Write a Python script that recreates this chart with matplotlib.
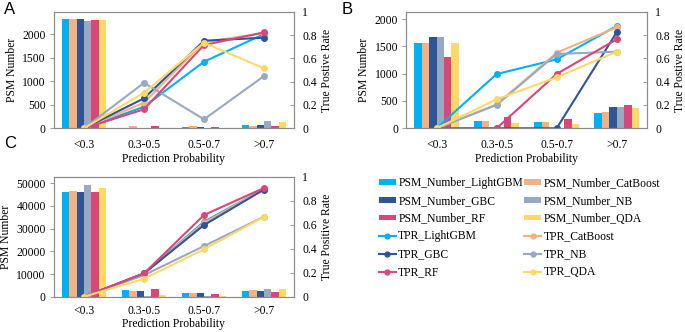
import numpy as np
import matplotlib.pyplot as plt
from matplotlib.patches import Patch
from matplotlib.lines import Line2D

plt.rcParams['font.family'] = ['Liberation Serif', 'DejaVu Serif']

categories = ['<0.3', '0.3-0.5', '0.5-0.7', '>0.7']
models = ['LightGBM', 'CatBoost', 'GBC', 'NB', 'RF', 'QDA']
colors = ['#00B0F0', '#F4B183', '#2F5597', '#98A9C2', '#D9467A', '#FFD966']

# panel A
psm_a = {
    'LightGBM': [2318, 15, 20, 75],
    'CatBoost': [2318, 40, 40, 45],
    'GBC': [2318, 15, 20, 80],
    'NB': [2275, 10, 8, 163],
    'RF': [2304, 40, 30, 55],
    'QDA': [2297, 10, 5, 130],
}
tpr_a = {
    'LightGBM': [0, 0.185, 0.571, 0.808],
    'CatBoost': [0, 0.22, 0.74, 0.815],
    'GBC': [0, 0.257, 0.751, 0.777],
    'NB': [0, 0.39, 0.077, 0.448],
    'RF': [0, 0.163, 0.714, 0.823],
    'QDA': [0, 0.305, 0.734, 0.514],
}

# panel B
psm_b = {
    'LightGBM': [1567, 139, 110, 286],
    'CatBoost': [1567, 139, 110, 298],
    'GBC': [1677, 8, 8, 396],
    'NB': [1677, 8, 8, 385],
    'RF': [1311, 212, 165, 427],
    'QDA': [1556, 103, 85, 366],
}
tpr_b = {
    'LightGBM': [0, 0.465, 0.591, 0.877],
    'CatBoost': [0, 0.205, 0.648, 0.866],
    'GBC': [0, 0, 0, 0.823],
    'NB': [0, 0.2, 0.637, 0.657],
    'RF': [0, 0, 0.466, 0.763],
    'QDA': [0, 0.248, 0.437, 0.657],
}

# panel C
psm_c = {
    'LightGBM': [46070, 2950, 1470, 2500],
    'CatBoost': [46500, 2650, 1470, 2800],
    'GBC': [46300, 2350, 1470, 2500],
    'NB': [49290, 100, 100, 3400],
    'RF': [46300, 3250, 1180, 1940],
    'QDA': [48100, 600, 300, 3400],
}
tpr_c = {
    'LightGBM': [0, 0.194, 0.625, 0.897],
    'CatBoost': [0, 0.192, 0.615, 0.897],
    'GBC': [0, 0.194, 0.597, 0.893],
    'NB': [0, 0.18, 0.422, 0.667],
    'RF': [0, 0.194, 0.681, 0.906],
    'QDA': [0, 0.15, 0.395, 0.665],
}

fs = 8.4
spine_col = '#8C8C8C'


def draw_panel(rect, psm, tpr, ymax, yticks, rlabel, xpad):
    ax = fig.add_axes(rect)
    x = np.arange(len(categories))
    w = 0.124
    for i, m in enumerate(models):
        ax.bar(x + (i - 2.5) * w, psm[m], width=w, color=colors[i], linewidth=0)
    ax.set_xlim(-0.5, 3.5)
    ax.set_ylim(0, ymax)
    ax.set_yticks(yticks)
    ax.set_xticks(x)
    ax.set_xticklabels(categories, fontsize=fs)
    ax.tick_params(axis='x', length=0, pad=xpad)
    ax.tick_params(axis='y', direction='out', length=3, width=0.6, color=spine_col,
                   labelsize=fs, pad=3)
    ax.set_ylabel('PSM Number', fontsize=fs, labelpad=3)
    ax.set_xlabel('Prediction Probability', fontsize=fs, labelpad=1)
    for s in ax.spines.values():
        s.set_color(spine_col)
        s.set_linewidth(0.8)

    ax2 = ax.twinx()
    for i, m in enumerate(models):
        ax2.plot(x, tpr[m], color=colors[i], linewidth=1.5, marker='o', markersize=4)
    ax2.set_ylim(0, 1)
    ax2.set_yticks([0, 0.2, 0.4, 0.6, 0.8, 1])
    ax2.set_yticklabels(['0', '0.2', '0.4', '0.6', '0.8', '1'])
    ax2.tick_params(axis='y', direction='in', length=3, width=0.6, color=spine_col,
                    labelsize=fs, pad=6)
    ax2.set_ylabel(rlabel, fontsize=fs, labelpad=3)
    for s in ax2.spines.values():
        s.set_color(spine_col)
        s.set_linewidth(0.8)
    return ax


fig = plt.figure(figsize=(6.85, 3.32), dpi=100)

draw_panel([54 / 685, 1 - 128.3 / 332, 240 / 685, 116.6 / 332], psm_a, tpr_a,
           2475, [0, 500, 1000, 1500, 2000], 'True Postive Rate', 8)
draw_panel([406.5 / 685, 1 - 128.3 / 332, 240.2 / 685, 116.6 / 332], psm_b, tpr_b,
           2134, [0, 500, 1000, 1500, 2000], 'True Postive Rate', 8)
draw_panel([54 / 685, 1 - 296.7 / 332, 240 / 685, 120 / 332], psm_c, tpr_c,
           52900, [0, 10000, 20000, 30000, 40000, 50000], 'True Positive Rate', 6)

for lab, px, py in [('A', 4, 14), ('B', 342, 14), ('C', 4, 148)]:
    fig.text(px / 685, 1 - py / 332, lab, fontsize=12, family='Liberation Sans')

# legend (row-major order in two columns)
handles = []
labels = []
for col in [0, 1]:
    for i in [col, col + 2, col + 4]:
        handles.append(Patch(facecolor=colors[i], edgecolor='none'))
        labels.append('PSM_Number_' + models[i])
    for i in [col, col + 2, col + 4]:
        handles.append(Line2D([], [], color=colors[i], linewidth=1.5, marker='o', markersize=3.5))
        labels.append('TPR_' + models[i])

fig.legend(handles, labels, ncol=2, loc='upper left', bbox_to_anchor=(379 / 685, 1 - 177 / 332),
           frameon=False, fontsize=fs, borderpad=0, borderaxespad=0, handlelength=1.45,
           handleheight=0.4, handletextpad=0.2, columnspacing=0.1, labelspacing=0.5,
           numpoints=1)

fig.savefig('out.png', dpi=100)
